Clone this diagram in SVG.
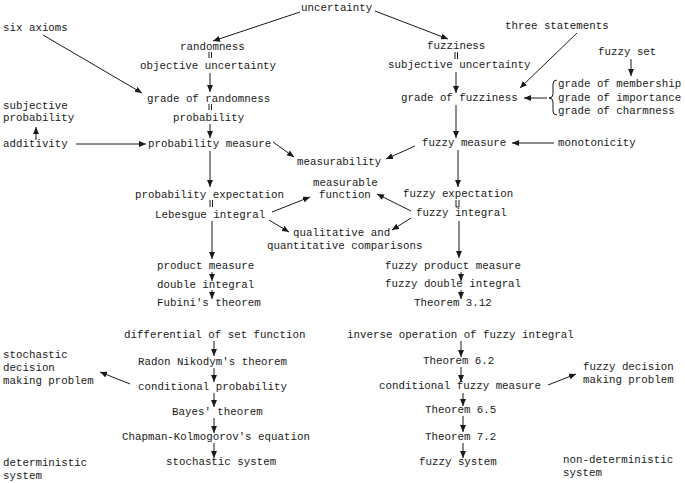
<svg xmlns="http://www.w3.org/2000/svg" width="685" height="483" viewBox="0 0 685 483">
<style>
text{font-family:"Liberation Mono","Courier New",monospace;font-size:10.8px;fill:#1a1a1a;}
.c line,.c path{stroke:#1a1a1a;stroke-width:1;fill:none;}
.c .a{marker-end:url(#ah);}
</style>
<defs>
<marker id="ah" markerUnits="userSpaceOnUse" markerWidth="8" markerHeight="6" refX="7" refY="3" orient="auto">
<path d="M0,0 L7,3 L0,6 z" fill="#1a1a1a"/>
</marker>
</defs>
<rect width="685" height="483" fill="#fff"/>
<g id="n-uncertainty"><text x="301" y="11">uncertainty</text></g>
<g id="n-sixaxioms"><text x="3" y="31">six axioms</text></g>
<g id="n-threestatements"><text x="505" y="29">three statements</text></g>
<g id="n-randomness"><text x="180" y="50">randomness</text></g>
<g id="n-fuzziness"><text x="427" y="49">fuzziness</text></g>
<g id="n-fuzzyset"><text x="598" y="55">fuzzy set</text></g>
<g id="n-objunc"><text x="140" y="69">objective uncertainty</text></g>
<g id="n-subjunc"><text x="388" y="68">subjective uncertainty</text></g>
<g id="n-graderand"><text x="147" y="102">grade of randomness</text></g>
<g id="n-gradefuzz"><text x="401" y="101">grade of fuzziness</text></g>
<g id="n-grades"><text x="558" y="87">grade of membership</text><text x="558" y="101">grade of importance</text><text x="558" y="114">grade of charmness</text></g>
<g id="n-subjprob"><text x="3" y="109">subjective</text><text x="3" y="121">probability</text></g>
<g id="n-probability"><text x="173" y="121">probability</text></g>
<g id="n-additivity"><text x="3" y="147">additivity</text></g>
<g id="n-probmeasure"><text x="148" y="147">probability measure</text></g>
<g id="n-fuzzymeasure"><text x="422" y="146">fuzzy measure</text></g>
<g id="n-monotonicity"><text x="558" y="146">monotonicity</text></g>
<g id="n-measurability"><text x="297" y="165">measurability</text></g>
<g id="n-probexp"><text x="135" y="198">probability expectation</text></g>
<g id="n-measfunc"><text x="313" y="186">measurable</text><text x="319" y="198">function</text></g>
<g id="n-fuzzyexp"><text x="403" y="197">fuzzy expectation</text></g>
<g id="n-lebesgue"><text x="155" y="218">Lebesgue integral</text></g>
<g id="n-fuzzyint"><text x="416" y="216">fuzzy integral</text></g>
<g id="n-qual"><text x="293" y="236">qualitative and</text><text x="267" y="249">quantitative comparisons</text></g>
<g id="n-prodmeasure"><text x="157" y="269">product measure</text></g>
<g id="n-fuzzyprod"><text x="385" y="269">fuzzy product measure</text></g>
<g id="n-doubleint"><text x="157" y="288">double integral</text></g>
<g id="n-fuzzydouble"><text x="385" y="287">fuzzy double integral</text></g>
<g id="n-fubini"><text x="157" y="306">Fubini's theorem</text></g>
<g id="n-thm312"><text x="414" y="306">Theorem 3.12</text></g>
<g id="n-differential"><text x="124" y="338">differential of set function</text></g>
<g id="n-inverse"><text x="347" y="338">inverse operation of fuzzy integral</text></g>
<g id="n-stochdec"><text x="3" y="358">stochastic</text><text x="3" y="371">decision</text><text x="3" y="384">making problem</text></g>
<g id="n-radon"><text x="138" y="365">Radon Nikodym's theorem</text></g>
<g id="n-thm62"><text x="423" y="364">Theorem 6.2</text></g>
<g id="n-fuzzydec"><text x="583" y="370">fuzzy decision</text><text x="583" y="383">making problem</text></g>
<g id="n-condprob"><text x="138" y="390">conditional probability</text></g>
<g id="n-condfuzzy"><text x="379" y="389">conditional fuzzy measure</text></g>
<g id="n-bayes"><text x="172" y="415">Bayes' theorem</text></g>
<g id="n-thm65"><text x="425" y="413">Theorem 6.5</text></g>
<g id="n-chapman"><text x="122" y="440">Chapman-Kolmogorov's equation</text></g>
<g id="n-thm72"><text x="425" y="440">Theorem 7.2</text></g>
<g id="n-determ"><text x="3" y="466">deterministic</text><text x="3" y="479">system</text></g>
<g id="n-stochsys"><text x="166" y="465">stochastic system</text></g>
<g id="n-fuzzysys"><text x="419" y="465">fuzzy system</text></g>
<g id="n-nondeterm"><text x="563" y="463">non-deterministic</text><text x="563" y="476">system</text></g>
<g id="connectors" class="c">
<line class="a" x1="300" y1="12" x2="213" y2="41"/>
<line class="a" x1="375" y1="11" x2="448" y2="39"/>
<line class="a" x1="43" y1="35" x2="142" y2="93"/>
<line x1="209" y1="52" x2="209" y2="58"/><line x1="211.5" y1="52" x2="211.5" y2="58"/>
<line class="a" x1="210" y1="73" x2="210" y2="92"/>
<line x1="209" y1="104" x2="209" y2="110"/><line x1="211.5" y1="104" x2="211.5" y2="110"/>
<line class="a" x1="210" y1="124" x2="210" y2="138"/>
<line class="a" x1="36" y1="140" x2="36" y2="127"/>
<line class="a" x1="76" y1="144" x2="146" y2="144"/>
<line class="a" x1="273" y1="142" x2="294" y2="157"/>
<line class="a" x1="210" y1="151" x2="210" y2="187"/>
<line x1="210" y1="200" x2="210" y2="207"/><line x1="212.5" y1="200" x2="212.5" y2="207"/>
<line class="a" x1="272" y1="212" x2="310" y2="197"/>
<line class="a" x1="269" y1="220" x2="289" y2="232"/>
<line class="a" x1="212" y1="221" x2="212" y2="259"/>
<line class="a" x1="212" y1="272" x2="212" y2="281"/>
<line class="a" x1="212" y1="290" x2="212" y2="299"/>
<line x1="455" y1="52" x2="455" y2="59"/><line x1="457.5" y1="52" x2="457.5" y2="59"/>
<line class="a" x1="456" y1="72" x2="456" y2="93"/>
<line class="a" x1="577" y1="33" x2="520" y2="88"/>
<line class="a" x1="631" y1="59" x2="631" y2="76"/>
<path d="M557,80 Q553,80 553,84 L553,94 Q553,98 549,98 Q553,98 553,102 L553,111 Q553,115 557,115"/>
<line class="a" x1="547" y1="98" x2="524" y2="98"/>
<line class="a" x1="456" y1="105" x2="456" y2="138"/>
<line class="a" x1="554" y1="143" x2="512" y2="143"/>
<line class="a" x1="415" y1="146" x2="386" y2="159"/>
<line class="a" x1="458" y1="150" x2="458" y2="187"/>
<path d="M456,200 L456,207 L459,207 L459,200"/>
<line class="a" x1="411" y1="211" x2="377" y2="194"/>
<line class="a" x1="411" y1="218" x2="392" y2="230"/>
<line class="a" x1="459" y1="221" x2="459" y2="258"/>
<line class="a" x1="461" y1="272" x2="461" y2="281"/>
<line class="a" x1="461" y1="290" x2="461" y2="299"/>
<line class="a" x1="214" y1="341" x2="214" y2="356"/>
<line class="a" x1="214" y1="368" x2="214" y2="382"/>
<line class="a" x1="130" y1="384" x2="100" y2="372"/>
<line class="a" x1="214" y1="393" x2="214" y2="407"/>
<line class="a" x1="214" y1="418" x2="214" y2="433"/>
<line class="a" x1="214" y1="443" x2="214" y2="458"/>
<line class="a" x1="461" y1="341" x2="461" y2="357"/>
<line class="a" x1="461" y1="367" x2="461" y2="382"/>
<line class="a" x1="548" y1="385" x2="576" y2="374"/>
<line class="a" x1="463" y1="393" x2="463" y2="406"/>
<line class="a" x1="463" y1="416" x2="463" y2="432"/>
<line class="a" x1="463" y1="443" x2="463" y2="458"/>
</g>
</svg>
